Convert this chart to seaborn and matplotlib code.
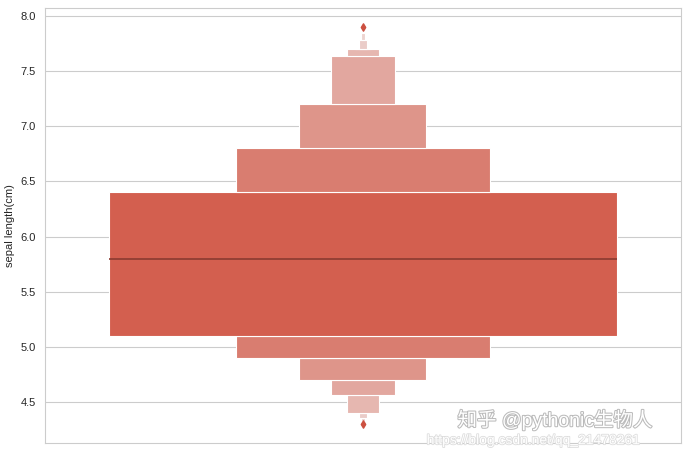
import numpy as np
import pandas as pd
import matplotlib.pyplot as plt
import matplotlib.patheffects as pe
import seaborn as sns

# iris sepal length (cm), 150 samples
setosa = [5.1, 4.9, 4.7, 4.6, 5.0, 5.4, 4.6, 5.0, 4.4, 4.9, 5.4, 4.8, 4.8, 4.3, 5.8,
          5.7, 5.4, 5.1, 5.7, 5.1, 5.4, 5.1, 4.6, 5.1, 4.8, 5.0, 5.0, 5.2, 5.2, 4.7,
          4.8, 5.4, 5.2, 5.5, 4.9, 5.0, 5.5, 4.9, 4.4, 5.1, 5.0, 4.5, 4.4, 5.0, 5.1,
          4.8, 5.1, 4.6, 5.3, 5.0]
versicolor = [7.0, 6.4, 6.9, 5.5, 6.5, 5.7, 6.3, 4.9, 6.6, 5.2, 5.0, 5.9, 6.0, 6.1, 5.6,
              6.7, 5.6, 5.8, 6.2, 5.6, 5.9, 6.1, 6.3, 6.1, 6.4, 6.6, 6.8, 6.7, 6.0, 5.7,
              5.5, 5.5, 5.8, 6.0, 5.4, 6.0, 6.7, 6.3, 5.6, 5.5, 5.5, 6.1, 5.8, 5.0, 5.6,
              5.7, 5.7, 6.2, 5.1, 5.7]
virginica = [6.3, 5.8, 7.1, 6.3, 6.5, 7.6, 4.9, 7.3, 6.7, 7.2, 6.5, 6.4, 6.8, 5.7, 5.8,
             6.4, 6.5, 7.7, 7.7, 6.0, 6.9, 5.6, 7.7, 6.3, 6.7, 7.2, 6.2, 6.1, 6.4, 7.2,
             7.4, 7.9, 6.4, 6.3, 6.1, 7.7, 6.3, 6.4, 6.0, 6.9, 6.7, 6.9, 5.8, 6.8, 6.7,
             6.7, 6.3, 6.5, 6.2, 5.9]

df = pd.DataFrame({'sepal length(cm)': setosa + versicolor + virginica})

sns.set_style('whitegrid')
plt.rcParams['font.family'] = ['Liberation Sans', 'Noto Sans CJK SC', 'DejaVu Sans']

fig, ax = plt.subplots(figsize=(6.86, 4.51), dpi=100)
sns.boxenplot(y='sepal length(cm)', data=df, color='#d35f4f', width=0.8,
              saturation=1, k_depth='proportion', outlier_prop=0.007,
              linecolor='white', linewidth=0.8,
              line_kws=dict(color='#8a3a30', linewidth=1.2),
              flier_kws=dict(marker='d', s=14, facecolor='#cc5040', edgecolor='#cc5040'),
              ax=ax)
ax.set_ylim(4.128, 8.072)
ax.set_xlim(-0.5, 0.5)
ax.set_ylabel('sepal length(cm)', fontsize=8)
ax.set_xlabel('')
ax.tick_params(labelsize=8)
for s in ax.spines.values():
    s.set_color('#cccccc')

# watermark
shadow = [pe.withStroke(linewidth=1.5, foreground='#bbbbbb')]
fig.text(0.667, 0.055, '知乎 @pythonic生物人', fontsize=14, color='white',
         path_effects=shadow)
fig.text(0.622, 0.015, 'https://blog.csdn.net/qq_21478261', fontsize=10, color='white',
         path_effects=[pe.withStroke(linewidth=1.2, foreground='#dddddd')])

plt.subplots_adjust(left=0.066, right=0.992, top=0.982, bottom=0.018)
plt.savefig('out.png')
